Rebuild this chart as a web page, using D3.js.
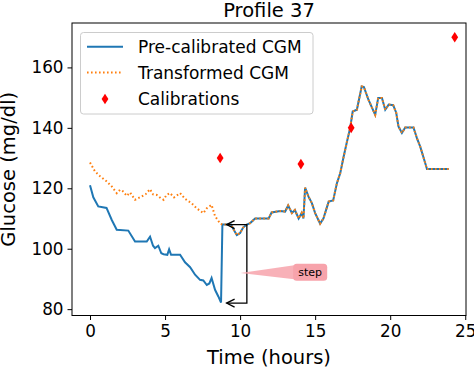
<!DOCTYPE html>
<html>
<head>
<meta charset="utf-8">
<script src="https://cdn.jsdelivr.net/npm/d3@7"></script>
<style>
  body { margin: 0; background: #fff; }
  text { font-family: "DejaVu Sans", sans-serif; fill: #000; }
</style>
</head>
<body>
<svg id="chart" width="474" height="369"></svg>
<script>

// before the calibration jump
var preTime    = [0, 0.22, 0.55, 1.1, 1.45, 1.78, 2.55, 3.0, 3.78, 4.0, 4.2, 4.33, 4.55, 4.75, 4.9, 5.15, 5.27, 5.4, 6.0, 6.33, 6.67, 7.0, 7.33, 7.55, 7.78, 7.95, 8.1, 8.33, 8.55, 8.73]
var preGlucose = [121, 117, 114, 113.5, 109.5, 106.3, 106, 102.4, 102.4, 104, 101, 100.2, 101, 98.5, 98.2, 98, 99.8, 98, 98, 95.5, 93.9, 91.4, 89.7, 89.5, 88, 88.5, 90.3, 86.4, 84.2, 82.2]

var transTime    = [0, 0.33, 0.67, 1.1, 1.45, 1.78, 2.0, 2.2, 2.45, 2.67, 3.0, 3.45, 3.7, 4.0, 4.2, 4.45, 4.7, 4.9, 5.1, 5.33, 5.6, 6.0, 6.33, 6.78, 7.1, 7.55, 7.78, 8.1, 8.33, 8.67]
var transGlucose = [128.5, 125.6, 124, 122.3, 120.6, 118.4, 119.5, 119, 117.5, 118.6, 116.2, 117.3, 118, 119.7, 118, 117.8, 116.8, 116.2, 117.8, 118.4, 117, 118.4, 116.5, 115, 113.4, 111.8, 113.4, 114.5, 110.8, 108.3]

// after the first calibration both series are the same
var sharedTime    = [8.82, 9.4, 9.55, 9.78, 10.0, 10.2, 10.45, 10.67, 11.0, 11.9, 12.1, 12.67, 13.0, 13.2, 13.45, 13.65, 13.9, 14.1, 14.22, 14.33, 14.55, 14.78, 15.0, 15.33, 15.55, 15.9, 16.2, 16.45, 16.67, 16.9, 17.1, 17.33, 17.5, 17.78, 18.1, 18.25, 18.55, 19.0, 19.2, 19.45, 19.67, 19.9, 20.2, 20.4, 20.55, 20.78, 21.0, 21.55, 21.78, 22.0, 22.2, 22.45, 23.9]
var sharedGlucose = [108, 108, 106.5, 104.5, 105.2, 107, 108, 108.5, 110, 110, 112, 112.5, 112.3, 114.3, 111.8, 112.8, 110, 111.8, 110, 120.2, 117.3, 115.1, 111.8, 108.3, 110, 115.6, 116, 121.7, 125, 130.5, 135, 139.9, 145.4, 146, 153.7, 153.5, 149.3, 144.3, 149.9, 149.9, 146, 147.7, 147.5, 145, 140.5, 138.3, 140.1, 140.1, 136.6, 133.8, 130.5, 126.4, 126.4]

var calTime    = [8.67, 14.05, 17.4, 24.3]
var calGlucose = [130, 128, 140, 170]

var xTicks = [0, 5, 10, 15, 20, 25]
var yTicks = [80, 100, 120, 140, 160]

var legendLabels = ["Pre-calibrated CGM", "Transformed CGM", "Calibrations"]

var blue = "#1f77b4", orange = "#ff7f0e", pink = "#f7a3ab"

var svg = d3.select("#chart")
var pLeft = 72, pRight = 466, pTop = 23, pBottom = 315.5

var x = d3.scaleLinear().domain([-1.2, 25.05]).range([pLeft, pRight])
var y = d3.scaleLinear().domain([77.9, 174.7]).range([pBottom, pTop])

var pre = preTime.map((t, i) => [t, preGlucose[i]])
    .concat(sharedTime.map((t, i) => [t, sharedGlucose[i]]))
var trans = transTime.map((t, i) => [t, transGlucose[i]])
    .concat(sharedTime.map((t, i) => [t, sharedGlucose[i]]))
var cal = calTime.map((t, i) => [t, calGlucose[i]])

var line = d3.line().x(d => x(d[0])).y(d => y(d[1]))

function diamond(cx, cy) {
    return "M" + cx + "," + (cy - 5.3) + "L" + (cx + 3.4) + "," + cy +
        "L" + cx + "," + (cy + 5.3) + "L" + (cx - 3.4) + "," + cy + "Z"
}

svg.append("path")
    .attr("d", line(pre))
    .attr("fill", "none")
    .attr("stroke", blue)
    .attr("stroke-width", 2)

svg.append("path")
    .attr("d", line(trans))
    .attr("fill", "none")
    .attr("stroke", orange)
    .attr("stroke-width", 2)
    .attr("stroke-dasharray", "1.6,2.4")

svg.selectAll(".cal")
    .data(cal)
    .join("path")
    .attr("class", "cal")
    .attr("d", d => diamond(x(d[0]), y(d[1])))
    .attr("fill", "red")

// step annotation: bar with two arrows
var tipX = x(9.1), barX = x(10.45), yTop = y(108), yBot = y(82)
var ann = svg.append("g").attr("stroke", "#000").attr("stroke-width", 1.3).attr("fill", "none")
ann.append("path").attr("d", "M" + tipX + "," + yTop + "H" + barX + "V" + yBot + "H" + tipX)
ann.selectAll(".head")
    .data([yTop, yBot])
    .join("path")
    .attr("class", "head")
    .attr("d", d => "M" + (tipX + 8) + "," + (d - 4) + "L" + tipX + "," + d + "L" + (tipX + 8) + "," + (d + 4))

// pink "step" label with wedge
var lx = x(14.67), ly = y(92.2)
svg.append("path")
    .attr("d", "M" + x(10.03) + "," + y(92) + "L" + (lx - 16) + "," + (ly - 7) + "L" + (lx - 16) + "," + (ly + 7) + "Z")
    .attr("fill", pink)
    .attr("opacity", 0.85)
svg.append("rect")
    .attr("x", lx - 17).attr("y", ly - 8.5)
    .attr("width", 34).attr("height", 17)
    .attr("rx", 3.5)
    .attr("fill", pink)
svg.append("text")
    .attr("x", lx).attr("y", ly + 4)
    .attr("text-anchor", "middle")
    .attr("font-size", 11)
    .text("step")

// axes
svg.append("g")
    .attr("transform", "translate(0," + pBottom + ")")
    .call(d3.axisBottom(x).tickValues(xTicks).tickSize(4.5).tickPadding(5).tickFormat(d3.format("d")))
svg.append("g")
    .attr("transform", "translate(" + pLeft + ",0)")
    .call(d3.axisLeft(y).tickValues(yTicks).tickSize(4.5).tickPadding(4).tickFormat(d3.format("d")))

svg.selectAll(".domain").remove()
svg.selectAll(".tick line").attr("stroke", "#000").attr("stroke-width", 1)
svg.selectAll(".tick text").attr("font-size", 16.8).attr("font-family", "DejaVu Sans").attr("fill", "#000")

svg.append("rect")
    .attr("x", pLeft).attr("y", pTop)
    .attr("width", pRight - pLeft).attr("height", pBottom - pTop)
    .attr("fill", "none")
    .attr("stroke", "#000")
    .attr("stroke-width", 1)

// legend
var lg = svg.append("g")
lg.append("rect")
    .attr("x", 80.5).attr("y", 32.5)
    .attr("width", 232.5).attr("height", 81.5)
    .attr("rx", 3)
    .attr("fill", "#fff").attr("fill-opacity", 0.8)
    .attr("stroke", "#cccccc")

var rows = lg.selectAll(".row")
    .data(legendLabels)
    .join("g")
    .attr("class", "row")
    .attr("transform", (d, i) => "translate(0," + [46.7, 72.5, 99][i] + ")")

rows.append("text")
    .attr("x", 138).attr("y", 6)
    .attr("font-size", 17)
    .text(d => d)

rows.filter((d, i) => i == 0).append("line")
    .attr("x1", 87).attr("x2", 123)
    .attr("stroke", blue).attr("stroke-width", 2)
rows.filter((d, i) => i == 1).append("line")
    .attr("x1", 87).attr("x2", 123)
    .attr("stroke", orange).attr("stroke-width", 2).attr("stroke-dasharray", "1.6,2.4")
rows.filter((d, i) => i == 2).append("path")
    .attr("d", diamond(105, 0))
    .attr("fill", "red")

// titles
svg.append("text")
    .attr("x", (pLeft + pRight) / 2).attr("y", 17)
    .attr("text-anchor", "middle")
    .attr("font-size", 19.5)
    .text("Profile 37")

svg.append("text")
    .attr("x", (pLeft + pRight) / 2).attr("y", 364)
    .attr("text-anchor", "middle")
    .attr("font-size", 19.5)
    .text("Time (hours)")

svg.append("text")
    .attr("transform", "translate(15," + ((pTop + pBottom) / 2) + ") rotate(-90)")
    .attr("text-anchor", "middle")
    .attr("font-size", 19.5)
    .text("Glucose (mg/dl)")

</script>
</body>
</html>
